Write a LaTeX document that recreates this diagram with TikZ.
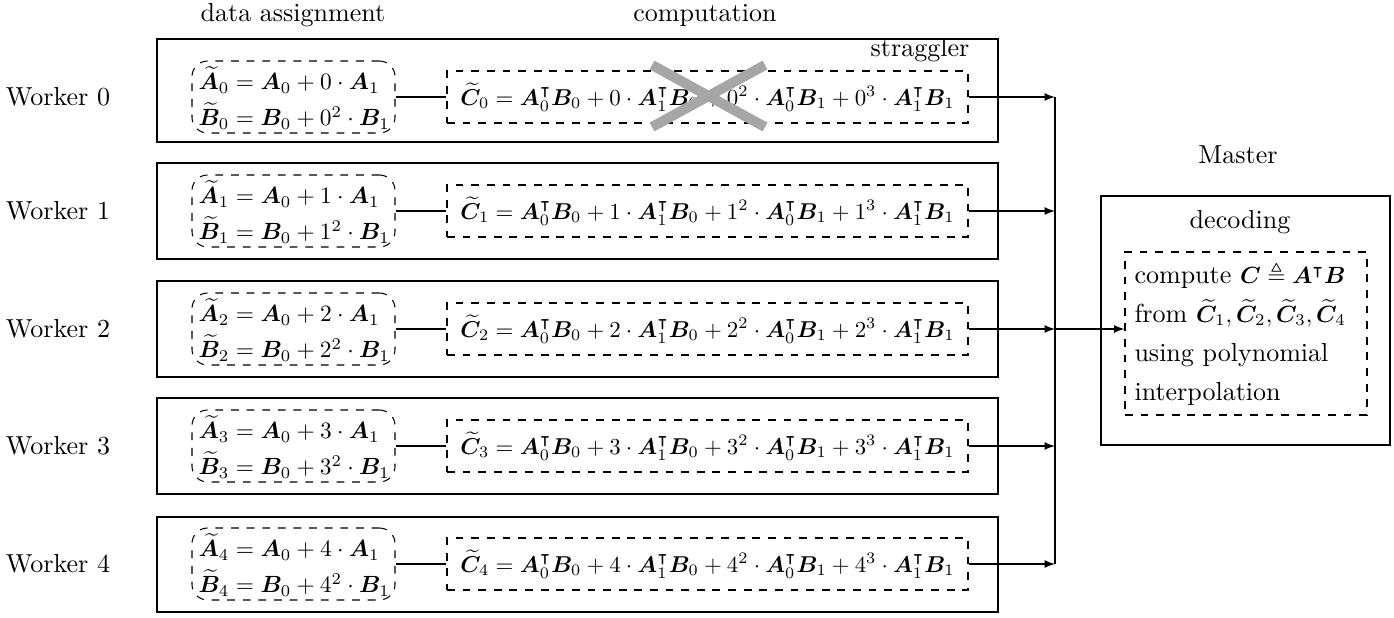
\documentclass[tikz,border=0pt]{standalone}
\usepackage{amsmath,amssymb,bm}
\begin{document}
\begin{tikzpicture}[x=0.0135cm,y=-0.0135cm,
  wbox/.style={draw,thick,inner sep=0},
  dbox/.style={draw,dashed,rounded corners=6pt,minimum width=203*0.0135cm,minimum height=72*0.0135cm,inner sep=0},
  cbox/.style={draw,dashed,minimum width=521*0.0135cm,minimum height=52*0.0135cm,inner sep=0},
  arr/.style={-latex}]
\useasboundingbox (0,0) rectangle (1394,617);
\newcommand{\At}{\bm{\widetilde{A}}}
\newcommand{\Bt}{\bm{\widetilde{B}}}
\newcommand{\Ct}{\bm{\widetilde{C}}}
\newcommand{\tp}{^{\intercal}}
\node (hda) at (293,15) {data assignment};
\node (hc) at (705,15) {computation};
\draw[thick] (157,39) rectangle (998,142);
\node (strag) at (920,50) {straggler};
\foreach \i/\y/\t/\b in {0/97/39/142,1/211/163/259,2/329/281/377,3/446/398/494,4/564/517/612}{
  \ifnum\i>0 \draw[thick] (157,\t) rectangle (998,\b);\fi
  \node (w\i) at (58,\y) {Worker \i};
  \node[dbox] (d\i) at (293.5,\y) {};
  \node[anchor=west,inner sep=0] (da\i) at (198,\y-17) {\scalebox{0.9}{$\At_\i=\bm{A}_0+\i\cdot\bm{A}_1$}};
  \node[anchor=west,inner sep=0] (db\i) at (198,\y+19) {\scalebox{0.9}{$\Bt_\i=\bm{B}_0+\i^2\cdot\bm{B}_1$}};
  \node[cbox] (c\i) at (707.5,\y) {\scalebox{0.88}{$\Ct_\i=\bm{A}_0\tp\bm{B}_0+\i\cdot\bm{A}_1\tp\bm{B}_0+\i^2\cdot\bm{A}_0\tp\bm{B}_1+\i^3\cdot\bm{A}_1\tp\bm{B}_1$}};
  \draw (d\i.east) -- (c\i.west);
  \coordinate (j\i) at (1055,\y);
  \draw[arr] (c\i.east) -- (j\i);
}
\draw[gray!70,line width=10*0.0135cm] (652,65) -- (765,127) (652,127) -- (765,65);
\draw (j0) -- (j4);
\node (mt) at (1238,155) {Master};
\draw[thick] (1101,196) rectangle (1390,445);
\node (dec) at (1240,222) {decoding};
\node[draw,dashed,minimum width=242*0.0135cm,minimum height=163*0.0135cm,inner sep=0] (mb) at (1246,333.5) {};
\node[align=left,anchor=west,inner sep=0] (mtext) at (1134,333.5) {compute \scalebox{0.9}{$\bm{C}\triangleq\bm{A}\tp\bm{B}$}\\[3pt] from \scalebox{0.9}{$\Ct_1,\Ct_2,\Ct_3,\Ct_4$}\\[3pt] using polynomial\\[3pt] interpolation};
\draw[arr] (j2) -- (j2 -| mb.west);
\end{tikzpicture}
\end{document}
